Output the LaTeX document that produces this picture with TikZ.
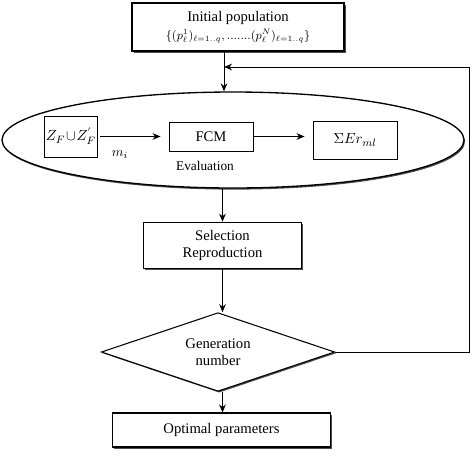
\documentclass[tikz,border=0pt]{standalone}
\usepackage{fontspec}
\setmainfont{Liberation Serif}
\usepackage{tikz}
\usetikzlibrary{arrows.meta, shapes.geometric, shadows}

\begin{document}
\begin{tikzpicture}[x=0.75pt,y=-0.75pt,
  box/.style={draw,fill=white,line width=0.8pt,align=center,inner sep=2pt,font=\fontsize{11}{13}\selectfont,drop shadow={shadow xshift=1.2pt,shadow yshift=-1.2pt,fill=black!70,opacity=1}},
  inbox/.style={draw,fill=white,line width=0.7pt,inner sep=1pt,font=\fontsize{11}{13}\selectfont},
  flow/.style={line width=0.7pt,-{Stealth[length=6pt,width=5pt]}}]

\useasboundingbox (0,0) rectangle (474,455);

% Draw the evaluation loop
\node[draw,ellipse,fill=white,line width=1pt,minimum width=346.5pt,minimum height=72pt,inner sep=0pt,drop shadow={shadow xshift=0.8pt,shadow yshift=-1.2pt,fill=black!70,opacity=1}] (ell) at (233,140) {};
\node[inbox,minimum width=36pt,minimum height=30.75pt] (zf) at (71,136.5) {$Z_F\!\cup\! Z^{'}_F$};
\node[inbox,minimum width=63pt,minimum height=21.75pt] (fcm) at (211,136.5) {FCM};
\node[inbox,minimum width=63pt,minimum height=28.5pt] (err) at (355,140) {$\Sigma Er_{ml}$};
\node (mi) at (120,155) {$m_i$};
\node (eval) at (205,166) {Evaluation};

% Draw the flowchart steps
\node[box,minimum width=159pt,minimum height=36pt] (init) at (238,27) {Initial population\\[1pt] {\fontsize{9}{11}\selectfont$\{(p_\ell^1)_{\ell=1..q},.......(p_\ell^N)_{\ell=1..q}\}$}};
\node[box,minimum width=119pt,minimum height=35pt] (sel) at (222.5,245.5) {Selection\\Reproduction};
\node[draw,diamond,fill=white,line width=0.8pt,aspect=2.9,inner sep=0pt,minimum width=175pt,minimum height=59pt,align=center,font=\fontsize{11}{13}\selectfont,drop shadow={shadow xshift=1pt,shadow yshift=-1pt,fill=black!70,opacity=1}] (gen) at (218,352) {Generation\\number};
\node[box,minimum width=163pt,minimum height=25.5pt] (opt) at (221.5,430) {Optimal parameters};

% Links between the nodes
\coordinate (fb) at (469,67);
\coordinate (join) at (224,67);
\draw[flow] (zf.east) ++(2,0) -- ([xshift=-6pt]fcm.west);
\draw[flow] (fcm.east) -- ([xshift=-6pt]err.west |- fcm.east);
\draw[flow] (init.south -| join) -- (ell.north -| join);
\draw[flow] (ell.south -| sel) -- (sel.north);
\draw[flow] (sel.south) -- (gen.north -| sel);
\draw[flow] (gen.south -| sel) -- (opt.north -| sel);
\draw[flow] (gen.east) -| (fb) -- (join);

\end{tikzpicture}
\end{document}
